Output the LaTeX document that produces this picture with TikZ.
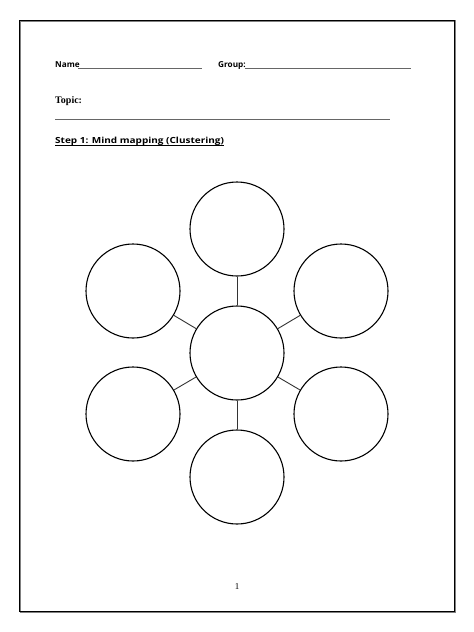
\documentclass[tikz,border=0pt]{standalone}
\usepackage{fontspec}
\setmainfont{Liberation Serif}
\newfontfamily\comicfont{Open Sans}
\newfontfamily\comicwide[FakeStretch=1.19]{Open Sans}
\begin{document}
\begin{tikzpicture}[x=1pt,y=-1pt,
  bubble/.style={circle,draw=black,line width=1.1pt,minimum size=94pt,inner sep=0pt},
  link/.style={draw=black!80,line width=0.9pt},
  rule/.style={draw=black!60,line width=0.9pt},
  hand/.style={font=\comicfont\bfseries\fontsize{8.2}{9}\selectfont,anchor=base west,inner sep=0pt},
  handwide/.style={font=\comicwide\bfseries\fontsize{8.4}{9}\selectfont,anchor=base west,inner sep=0pt}]
\useasboundingbox (0,0) rectangle (474,632);
\fill[white] (0,0) rectangle (474,632);
% page frame with shadow
\draw[black!50,line width=1.6pt] (20.5,21) rectangle (455.5,612.5);
\draw[black,line width=0.8pt] (19,20) rectangle (454.5,611.5);
% header texts
\node[hand] (name) at (55,67) {Name};
\coordinate (nameA) at (78,68);
\coordinate (nameB) at (202,68);
\draw[rule] (nameA) -- (nameB);
\node[hand] (group) at (218,67) {Group:};
\coordinate (groupA) at (245,68);
\coordinate (groupB) at (411,68);
\draw[rule] (groupA) -- (groupB);
\node[font=\bfseries\fontsize{10}{12}\selectfont,anchor=base west,inner sep=0pt] (topic) at (55,103) {Topic:};
\coordinate (topicA) at (55,119);
\coordinate (topicB) at (390,119);
\draw[rule] (topicA) -- (topicB);
\node[handwide] (step) at (55,143.5) {Step 1: Mind mapping (Clustering)};
\draw[black,line width=0.7pt] ([yshift=-1.6pt]step.base west) -- ([yshift=-1.6pt]step.base east);
% mind map
\node[bubble] (c) at (237,353) {};
\node[bubble] (t) at (237,229) {};
\node[bubble] (b) at (237,477) {};
\node[bubble] (tl) at (133,291) {};
\node[bubble] (tr) at (341,291) {};
\node[bubble] (bl) at (133,414) {};
\node[bubble] (br) at (341,414) {};
\foreach \o in {t,b,tl,tr,bl,br} \draw[link] (c) -- (\o);
% page number
\node[font=\fontsize{9}{10}\selectfont,inner sep=0pt] (pg) at (237,587) {1};
\end{tikzpicture}
\end{document}
